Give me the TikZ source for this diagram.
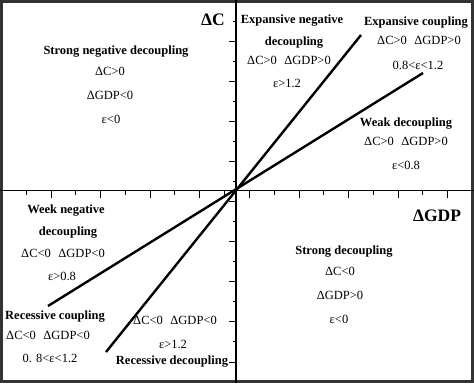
\documentclass[tikz,border=0pt]{standalone}
\usepackage{fontspec}
\setmainfont{Liberation Serif}
\begin{document}
\begin{tikzpicture}[x=1pt,y=-1pt,
  lab/.style={inner sep=0pt,font=\fontsize{12.5}{14}\selectfont},
  blab/.style={inner sep=0pt,font=\fontsize{12.5}{14}\selectfont\bfseries},
  axlab/.style={inner sep=0pt,font=\fontsize{17.5}{20}\selectfont\bfseries},
  axisline/.style={line width=1.4pt,black},
  divline/.style={line width=2.4pt,black},
  frameline/.style={line width=3pt,black!80}]
\useasboundingbox (0,0) rectangle (474,383);
% frame
\draw[frameline] (1.5,1.5) rectangle (472.5,381.5);
% axes
\coordinate (O) at (236,190.5);
\coordinate (yt) at (236,0);
\coordinate (yb) at (236,383);
\coordinate (xl) at (0,190.5);
\coordinate (xr) at (474,190.5);
\draw[axisline] (yt) -- (yb);
\draw[axisline] (xl) -- (xr);
% ticks on horizontal axis
\foreach \k in {0,...,8}{
  \draw[line width=1pt] ({51+49.6*\k},190.5) -- ++(0,7);
  \draw[line width=1pt] ({26+49.6*\k},190.5) -- ++(0,4);
}
% ticks on vertical axis
\foreach \k in {0,...,17}{
  \pgfmathtruncatemacro{\odd}{mod(\k,2)}
  \ifnum\odd=1
    \draw[line width=1pt] (236,{21+20.06*\k}) -- ++(-7,0);
  \else
    \draw[line width=1pt] (236,{21+20.06*\k}) -- ++(-3.5,0);
  \fi
}
% dividing lines
\coordinate (s1) at (106,352);
\coordinate (s2) at (361,35);
\coordinate (w1) at (48,306);
\coordinate (w2) at (423,73);
\draw[divline] (s1) -- (s2);
\draw[divline] (w1) -- (w2);
% axis labels
\node[axlab] (dc) at (213,20) {ΔC};
\node[axlab] (dgdp) at (437,216) {ΔGDP};
% top-left
\node[blab] (snd) at (116,52) {Strong negative decoupling};
\node[lab] (snd1) at (110,71) {ΔC>0};
\node[lab] (snd2) at (110,95) {ΔGDP<0};
\node[lab] (snd3) at (111,119) {ε<0};
% top middle
\node[blab] (end) at (292,21) {Expansive negative};
\node[blab] (endb) at (294,43) {decoupling};
\node[lab] (end1) at (289,60) {ΔC>0\hspace{0.6em}ΔGDP>0};
\node[lab] (end2) at (287,83) {ε>1.2};
% top right
\node[blab] (ec) at (416,23) {Expansive coupling};
\node[lab] (ec1) at (419,40) {ΔC>0\hspace{0.6em}ΔGDP>0};
\node[lab] (ec2) at (418,65) {0.8<ε<1.2};
\node[blab] (wd) at (406,124) {Weak decoupling};
\node[lab] (wd1) at (406,141) {ΔC>0\hspace{0.6em}ΔGDP>0};
\node[lab] (wd2) at (406,165) {ε<0.8};
% bottom left
\node[blab] (wnd) at (66,211) {Week negative};
\node[blab] (wndb) at (68,233) {decoupling};
\node[lab] (wnd1) at (63,253) {ΔC<0\hspace{0.6em}ΔGDP<0};
\node[lab] (wnd2) at (62,276) {ε>0.8};
\node[blab] (rc) at (55,317) {Recessive coupling};
\node[lab] (rc1) at (48,335) {ΔC<0\hspace{0.6em}ΔGDP<0};
\node[lab] (rc2) at (50,358) {0. 8<ε<1.2};
\node[lab] (rd1) at (175,320) {ΔC<0\hspace{0.6em}ΔGDP<0};
\node[lab] (rd2) at (173,344) {ε>1.2};
\node[blab] (rd) at (172,362) {Recessive decoupling};
% bottom right
\node[blab] (sd) at (344,252) {Strong decoupling};
\node[lab] (sd1) at (340,271) {ΔC<0};
\node[lab] (sd2) at (340,295) {ΔGDP>0};
\node[lab] (sd3) at (339,319) {ε<0};
\end{tikzpicture}
\end{document}
